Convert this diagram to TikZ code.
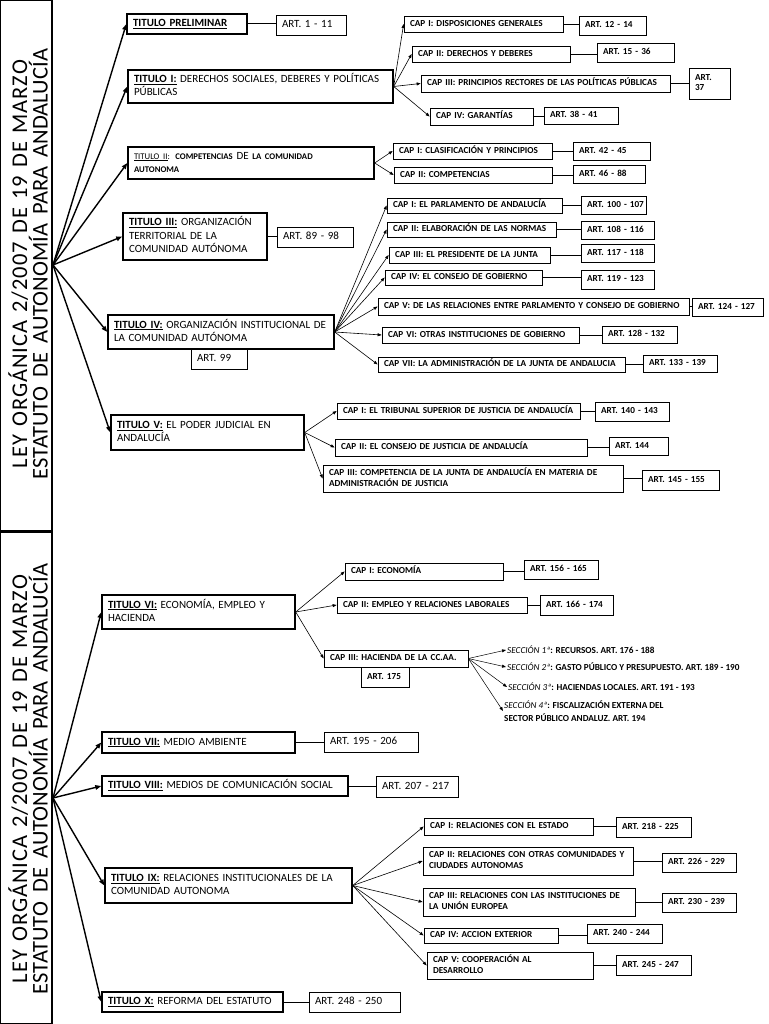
\documentclass[tikz,border=0pt]{standalone}
\usepackage{fontspec}
\setmainfont{Carlito}
\newfontfamily\vwide[LetterSpace=4]{Carlito}
\usetikzlibrary{arrows.meta}
\newcommand\tfont{\fontsize{11}{13.3}\selectfont}
\newcommand\cfont{\fontsize{9.2}{10.5}\selectfont\bfseries}
\newcommand\vfont{\fontsize{22.5}{20.5}\selectfont}
\newcommand\smf{\fontsize{8.7}{12}\selectfont}
\newcommand\tul[1]{\underline{\textbf{#1}}}
\newcommand\vtext{{\vwide\makebox[408pt][s]{LEY ORGÁNICA 2/2007 DE 19 DE MARZO}}\\\makebox[430pt][s]{ESTATUTO DE AUTONOMÍA PARA ANDALUCÍA}}
\newcommand\B[7]{%
 \pgfmathsetmacro\myW{#5-#3}\pgfmathsetmacro\myH{#6-#4}\pgfmathsetmacro\myT{#5-#3-12}%
 \node[#2, minimum width=\myW pt, minimum height=\myH pt, text width=\myT pt] (#1) at ({(#3+#5)/2},{(#4+#6)/2}) {\begin{tabular}{@{}l@{}}#7\end{tabular}};}
\tikzset{
 basebox/.style={draw, fill=white, inner xsep=6pt, inner ysep=1pt, align=left},
 tbox/.style={basebox, line width=1.4pt, font=\tfont},
 cbox/.style={basebox, line width=0.7pt, font=\cfont},
 asm/.style={basebox, line width=0.7pt, font=\cfont},
 abig/.style={basebox, line width=0.8pt, font=\tfont},
 tarr/.style={-{Triangle[length=6pt,width=4.5pt]}, line width=1.4pt},
 carr/.style={-{Triangle[length=4pt,width=3pt]}, line width=0.6pt},
 link/.style={line width=0.8pt},
 sec/.style={font=\cfont, inner sep=1pt, anchor=west, align=left},
}
\begin{document}
\begin{tikzpicture}[x=1pt,y=-1pt]
\useasboundingbox (0,0) rectangle (768,1024);
% side panels
\draw[line width=1.3pt] (0.7,0.7) rectangle (52,531);
\draw[line width=1.3pt] (0.7,532) rectangle (52,1023.3);
\node[rotate=90, align=center, font=\vfont, inner sep=0pt] (vt1) at (28,264) {\vtext};
\node[rotate=90, align=center, font=\vfont, inner sep=0pt] (vt2) at (28,779) {\vtext};
\coordinate (hubA) at (53,265);
\coordinate (hubB) at (53,798);

% ---------- top section ----------
\B{tp}{tbox}{127}{14}{247}{34}{\tul{TITULO PRELIMINAR}}
\B{a1}{abig}{276}{15}{346}{35}{ART. 1 - 11}

\B{t1}{tbox}{128}{70}{393}{103}{\tul{TITULO I:} DERECHOS SOCIALES, DEBERES Y POLÍTICAS\\PÚBLICAS}
\B{c11}{cbox}{404}{16}{563}{32}{CAP I: DISPOSICIONES GENERALES}
\B{a11}{asm}{579}{16}{646}{35}{ART. 12 - 14}
\B{c12}{cbox}{412}{46}{570}{62}{CAP II: DERECHOS Y DEBERES}
\B{a12}{asm}{597}{43}{674}{62}{ART. 15 - 36}
\B{c13}{cbox}{421}{75}{670}{92}{CAP III: PRINCIPIOS RECTORES DE LAS POLÍTICAS PÚBLICAS}
\B{a13}{asm}{689}{68}{730}{99}{ART.\\37}
\B{c14}{cbox}{430}{108}{533}{125}{CAP IV: GARANTÍAS}
\B{a14}{asm}{544}{107}{618}{124}{ART. 38 - 41}

\B{t2}{tbox}{128}{147}{374}{179}{{\smf\underline{TITULO II}: \textbf{COMPETENCIAS }}DE{\smf\textbf{ LA COMUNIDAD}}\\{\smf\textbf{AUTONOMA}}}
\B{c21}{cbox}{393}{143}{552}{159}{CAP I: CLASIFICACIÓN Y PRINCIPIOS}
\B{a21}{asm}{573}{142}{650}{160}{ART. 42 - 45}
\B{c22}{cbox}{394}{167}{552}{183}{CAP II: COMPETENCIAS}
\B{a22}{asm}{573}{165}{645}{183}{ART. 46 - 88}

\B{t3}{tbox}{123}{213}{267}{260}{\tul{TITULO III:} ORGANIZACIÓN\\TERRITORIAL DE LA\\COMUNIDAD AUTÓNOMA}
\B{a3}{abig}{277}{227}{353}{247}{ART. 89 - 98}

\B{t4}{tbox}{108}{315}{334}{349}{\tul{TITULO IV:} ORGANIZACIÓN INSTITUCIONAL DE\\LA COMUNIDAD AUTÓNOMA}
\B{a4}{abig}{191}{349}{247}{369}{ART. 99}
\B{c41}{cbox}{387}{198}{562}{213}{CAP I: EL PARLAMENTO DE ANDALUCÍA}
\B{a41}{asm}{581}{196}{646}{214}{ART. 100 - 107}
\B{c42}{cbox}{387}{222}{556}{237}{CAP II: ELABORACIÓN DE LAS NORMAS}
\B{a42}{asm}{581}{221}{654}{239}{ART. 108 - 116}
\B{c43}{cbox}{389}{247}{550}{263}{CAP III: EL PRESIDENTE DE LA JUNTA}
\B{a43}{asm}{581}{244}{654}{262}{ART. 117 - 118}
\B{c44}{cbox}{385}{270}{542}{285}{CAP IV: EL CONSEJO DE GOBIERNO}
\B{a44}{asm}{581}{270}{654}{289}{ART. 119 - 123}
\B{c45}{cbox}{378}{298}{689}{315}{CAP V: DE LAS RELACIONES ENTRE PARLAMENTO Y CONSEJO DE GOBIERNO}
\B{a45}{asm}{692}{298}{763}{316}{ART. 124 - 127}
\B{c46}{cbox}{382}{327}{579}{343}{CAP VI: OTRAS INSTITUCIONES DE GOBIERNO}
\B{a46}{asm}{602}{326}{677}{343}{ART. 128 - 132}
\B{c47}{cbox}{378}{357}{625}{372}{CAP VII: LA ADMINISTRACIÓN DE LA JUNTA DE ANDALUCIA}
\B{a47}{asm}{643}{355}{717}{372}{ART. 133 - 139}

\B{t5}{tbox}{111}{415}{304}{450}{\tul{TITULO V:} EL PODER JUDICIAL EN\\ANDALUCÍA}
\B{c51}{cbox}{337}{403}{580}{419}{CAP I: EL TRIBUNAL SUPERIOR DE JUSTICIA DE ANDALUCÍA}
\B{a51}{asm}{595}{402}{669}{421}{ART. 140 - 143}
\B{c52}{cbox}{335}{439}{587}{456}{CAP II: EL CONSEJO DE JUSTICIA DE ANDALUCÍA}
\B{a52}{asm}{609}{437}{668}{455}{ART. 144}
\B{c53}{cbox}{323}{465}{623}{492}{CAP III: COMPETENCIA DE LA JUNTA DE ANDALUCÍA EN MATERIA DE\\ADMINISTRACIÓN DE JUSTICIA}
\B{a53}{asm}{642}{470}{719}{490}{ART. 145 - 155}

% ---------- bottom section ----------
\B{t6}{tbox}{102}{595}{295}{629}{\tul{TITULO VI:} ECONOMÍA, EMPLEO Y\\HACIENDA}
\B{c61}{cbox}{345}{563}{503}{580}{CAP I: ECONOMÍA}
\B{a61}{asm}{524}{560}{598}{579}{ART. 156 - 165}
\B{c62}{cbox}{337}{597}{527}{613}{CAP II: EMPLEO Y RELACIONES LABORALES}
\B{a62}{asm}{540}{595}{613}{615}{ART. 166 - 174}
\B{c63}{cbox}{324}{650}{468}{667}{CAP III: HACIENDA DE LA CC.AA.}
\B{a63}{asm}{361}{667}{409}{687}{ART. 175}
\node[sec] (s1) at (506,650) {\textit{\mdseries SECCIÓN 1ª}: RECURSOS. ART. 176 - 188};
\node[sec] (s2) at (506,667) {\textit{\mdseries SECCIÓN 2ª}: GASTO PÚBLICO Y PRESUPUESTO. ART. 189 - 190};
\node[sec] (s3) at (507,687) {\textit{\mdseries SECCIÓN 3ª}: HACIENDAS LOCALES. ART. 191 - 193};
\node[sec, font=\fontsize{9.2}{13}\selectfont\bfseries] (s4) at (503,711) {\textit{\mdseries SECCIÓN 4ª}: FISCALIZACIÓN EXTERNA DEL\\SECTOR PÚBLICO ANDALUZ. ART. 194};

\B{t7}{tbox}{102}{732}{295}{753}{\tul{TITULO VII:} MEDIO AMBIENTE}
\B{a7}{abig}{324}{732}{418}{752}{ART. 195 - 206}
\B{t8}{tbox}{102}{776}{348}{796}{\tul{TITULO VIII:} MEDIOS DE COMUNICACIÓN SOCIAL}
\B{a8}{abig}{376}{776}{458}{797}{ART. 207 - 217}

\B{t9}{tbox}{105}{868}{352}{903}{\tul{TITULO IX:} RELACIONES INSTITUCIONALES DE LA\\COMUNIDAD AUTONOMA}
\B{c91}{cbox}{424}{818}{593}{835}{CAP I: RELACIONES CON EL ESTADO}
\B{a91}{asm}{616}{817}{691}{837}{ART. 218 - 225}
\B{c92}{cbox}{423}{847}{633}{875}{CAP II: RELACIONES CON OTRAS COMUNIDADES Y\\CIUDADES AUTONOMAS}
\B{a92}{asm}{662}{853}{736}{872}{ART. 226 - 229}
\B{c93}{cbox}{423}{888}{635}{916}{CAP III: RELACIONES CON LAS INSTITUCIONES DE\\LA UNIÓN EUROPEA}
\B{a93}{asm}{662}{893}{736}{912}{ART. 230 - 239}
\B{c94}{cbox}{424}{928}{558}{943}{CAP IV: ACCION EXTERIOR}
\B{a94}{asm}{587}{924}{662}{943}{ART. 240 - 244}
\B{c95}{cbox}{427}{952}{593}{979}{CAP V: COOPERACIÓN AL\\DESARROLLO}
\B{a95}{asm}{616}{955}{691}{975}{ART. 245 - 247}

\B{t10}{tbox}{102}{992}{283}{1012}{\tul{TITULO X:} REFORMA DEL ESTATUTO}
\B{a10}{abig}{309}{992}{400}{1012}{ART. 248 - 250}

% ---------- connectors ----------
\foreach \t in {tp,t1,t2,t3,t4,t5} \draw[tarr] (hubA) -- (\t.west);
\foreach \t in {t6,t7,t8,t9,t10} \draw[tarr] (hubB) -- (\t.west);

\foreach \a/\b in {tp/a1,t3/a3,t7/a7,t8/a8,t10/a10} \draw[line width=1pt] (\a.east) -- (\a.east -| \b.west);

\foreach \c in {c11,c12,c13,c14} \draw[carr] (t1.east) -- (\c.west);
\foreach \c in {c21,c22} \draw[carr] (t2.east) -- (\c.west);
\foreach \c in {c41,c42,c43,c44,c45,c46,c47} \draw[carr] (t4.east) -- (\c.west);
\foreach \c in {c51,c52,c53} \draw[carr] (t5.east) -- (\c.west);
\foreach \c in {c61,c62,c63} \draw[carr] (t6.east) -- (\c.west);
\foreach \c in {s1,s2,s3,s4} \draw[carr, line width=0.5pt] (c63.east) -- (\c.west);
\foreach \c in {c91,c92,c93,c94,c95} \draw[carr] (t9.east) -- (\c.west);

\foreach \a/\b in {c11/a11,c12/a12,c13/a13,c14/a14,c21/a21,c22/a22,c41/a41,c42/a42,c43/a43,c44/a44,c45/a45,c46/a46,c47/a47,c51/a51,c52/a52,c53/a53,c61/a61,c62/a62,c91/a91,c92/a92,c93/a93,c94/a94,c95/a95}
  \draw[link] (\a.east) -- (\a.east -| \b.west);
\end{tikzpicture}
\end{document}
